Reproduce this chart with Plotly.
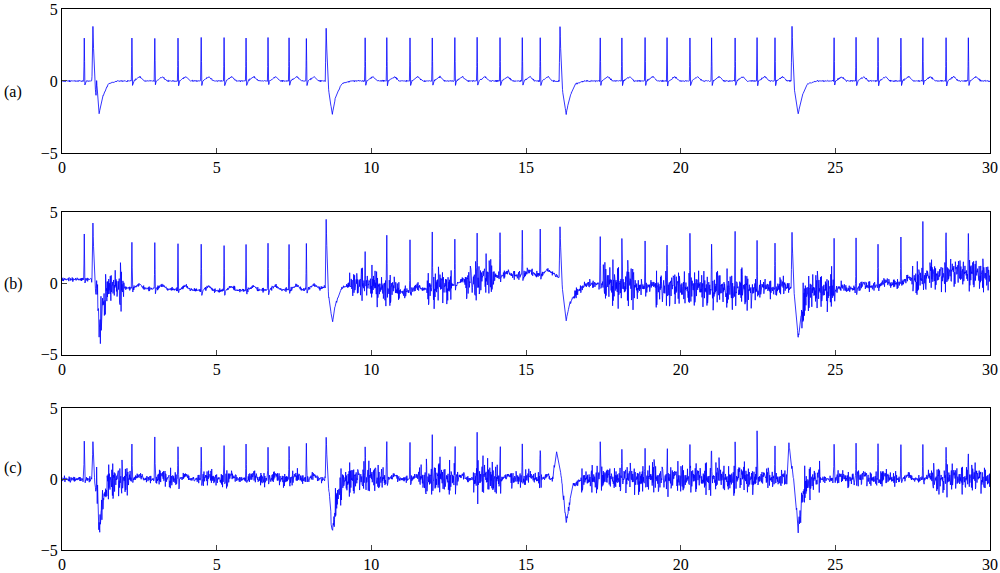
import numpy as np
import plotly.graph_objects as go
from plotly.subplots import make_subplots

# --- data ---
big_beats = [1.0, 8.54, 16.1, 23.6]
small_spikes = [0.72, 2.26, 3.0, 3.75, 4.5, 5.24, 5.95, 6.66, 7.34, 7.9,
                9.8, 10.5, 11.25, 11.97, 12.7, 13.42, 14.16, 14.88, 15.46,
                17.4, 18.1, 18.85, 19.56, 20.3, 21.0, 21.76, 22.47, 23.05,
                24.96, 25.67, 26.38, 27.12, 27.83, 28.58, 29.3]
spike_height = {"a": 3.0, "b": 3.2, "c": 2.5}
big_peak = {"a": [3.8, 3.7, 3.8, 3.8], "b": [3.9, 4.8, 3.6, 3.8], "c": [2.5, 3.0, 2.0, 2.4]}
big_dip = {"a": [-2.3, -2.3, -2.3, -2.3], "b": [-3.5, -2.5, -2.6, -3.5], "c": [-3.5, -3.8, -3.1, -3.4]}

baseline_b = [(0, 0.3), (0.9, 0.3), (2, -0.3), (5, -0.5), (8, -0.4), (9.5, 0.0), (11, -0.6),
              (13, 0.0), (14, 0.5), (15.9, 0.7), (16.6, -0.5), (17, 0.0), (19, -0.3),
              (22, -0.5), (23.5, -0.3), (25, -0.5), (27, 0.0), (29, 0.8), (30, 0.5)]
bursts_b = [(1.15, 2.0, 1.8), (9.3, 10.9, 1.4), (11.0, 11.6, 0.5), (11.8, 12.6, 1.5),
            (13.0, 14.0, 1.7), (14.0, 15.5, 0.35), (16.5, 17.5, 0.4), (17.5, 18.6, 1.9),
            (18.6, 19.2, 0.6), (19.2, 22.3, 1.6), (22.3, 23.5, 0.8), (23.9, 25.0, 1.7),
            (25.0, 27.5, 0.4), (27.5, 30.0, 1.3)]
bursts_c = [(1.1, 2.2, 1.5), (3.0, 3.8, 0.8), (4.5, 5.5, 0.7), (6.0, 8.0, 0.6), (8.7, 10.5, 1.4),
            (11.5, 12.8, 1.5), (13.3, 14.2, 1.7), (14.5, 15.5, 0.7), (16.8, 18.5, 1.1),
            (18.5, 22.5, 1.3), (22.5, 23.5, 0.8), (23.8, 24.5, 1.5), (25.0, 27.0, 0.7),
            (28.0, 30.0, 1.2)]
noise_floor = {"a": 0.06, "b": 0.18, "c": 0.3}
wiggle = [0.3, -0.8, 0.9, -0.2, -1.0, 0.6, 0.1, -0.5, 1.0, -0.7, 0.2, 0.8, -0.9, -0.1,
          0.5, -0.6, 0.95, -0.3, -0.85, 0.4, 0.7, -1.0, 0.15, 0.6, -0.4, -0.75, 0.85, 0.0,
          -0.55, 0.45, -0.95, 0.75, 0.25, -0.65, 0.55, -0.15, -0.9, 1.0, -0.35, 0.2, -0.7]
swell = [0.3, 0.5, 0.9, 0.4, 0.2, 0.7, 1.0, 0.6, 0.35, 0.25, 0.8, 0.5, 0.3, 0.95,
         0.45, 0.2, 0.6, 0.85, 0.4, 0.3, 0.7, 0.55, 0.25]
x_ticks = [0, 5, 10, 15, 20, 25, 30]
y_ticks = [-5, 0, 5]


def build(panel, baseline, bursts, offset):
    t = np.arange(0, 30.0001, 0.01)
    knots = []
    h = spike_height[panel]
    for s in small_spikes:
        knots += [(s - 0.015, 0), (s, h), (s + 0.02, -0.3), (s + 0.05, 0), (s + 0.25, 0.3), (s + 0.4, 0)]
    for b, pk, dp in zip(big_beats, big_peak[panel], big_dip[panel]):
        if panel == "c" and b > 16:
            knots += [(b - 0.3, 0), (b - 0.1, pk), (b + 0.05, 0), (b + 0.2, dp), (b + 0.4, -0.5), (b + 0.7, 0)]
        else:
            knots += [(b - 0.03, 0), (b, pk), (b + 0.05, 0), (b + 0.1, -1.0), (b + 0.2, dp),
                      (b + 0.3, dp * 0.5), (b + 0.5, -0.2), (b + 0.8, 0)]
    knots.sort()
    y = np.interp(t, [k[0] for k in knots], [k[1] for k in knots])
    if baseline:
        y = y + np.interp(t, [k[0] for k in baseline], [k[1] for k in baseline])
    amp = np.full_like(t, noise_floor[panel])
    for s, e, a in bursts:
        m = (t >= s) & (t <= e)
        amp[m] = np.maximum(amp[m], a)
    n = len(wiggle)
    w = np.array([wiggle[(i * 7 + offset) % n] * swell[(i // 4 + offset) % len(swell)]
                  for i in range(len(t))])
    return t, y + amp * w


fig = make_subplots(rows=3, cols=1, vertical_spacing=0.1)
panels = [("a", None, [], 0), ("b", baseline_b, bursts_b, 5), ("c", None, bursts_c, 11)]
for i, (p, base, br, off) in enumerate(panels, start=1):
    t, y = build(p, base, br, off)
    fig.add_trace(go.Scatter(x=t, y=y, mode="lines", line=dict(color="#0000ff", width=0.8),
                             showlegend=False), row=i, col=1)

domains = [(0.734, 1.0), (0.361, 0.624), (0.0, 0.262)]
for i, d in enumerate(domains, start=1):
    sfx = "" if i == 1 else str(i)
    fig.layout["xaxis" + sfx].update(range=[0, 30], tickvals=x_ticks, showline=True, mirror=True,
                                     linecolor="black", ticks="inside", ticklen=5, showgrid=False,
                                     zeroline=False, automargin=False)
    fig.layout["yaxis" + sfx].update(domain=list(d), range=[-5, 5], tickvals=y_ticks, showline=True,
                                     mirror=True, linecolor="black", ticks="inside", ticklen=5,
                                     showgrid=False, zeroline=False, automargin=False)
    fig.add_annotation(text="(" + "abc"[i - 1] + ")", xref="paper", yref="paper", x=-0.065,
                       y=(d[0] + d[1]) / 2, showarrow=False, xanchor="left", font=dict(size=16))

fig.update_layout(width=1000, height=573, plot_bgcolor="white", paper_bgcolor="white",
                  margin=dict(l=62, r=10, t=9, b=23),
                  font=dict(family="Liberation Serif", size=16, color="black"))
fig.write_html("out.html", config={"displayModeBar": False},
               post_script="document.body.style.margin='0';document.body.style.overflow='hidden';")
